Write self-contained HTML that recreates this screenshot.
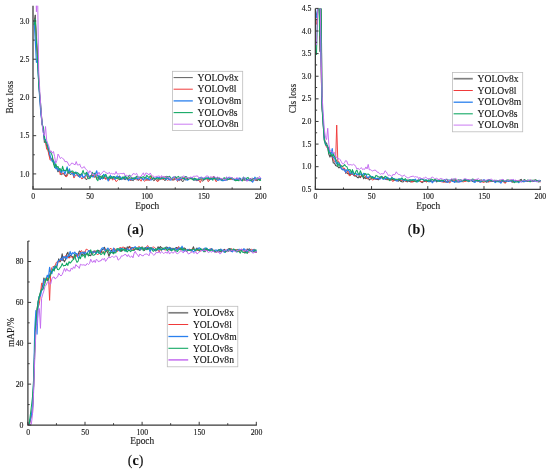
<!DOCTYPE html>
<html><head><meta charset="utf-8"><title>Figure</title>
<style>
html,body{margin:0;padding:0;background:#fff;}
body{width:550px;height:474px;overflow:hidden;}
svg{display:block;font-family:"Liberation Serif","DejaVu Serif",serif;}
text{stroke:#222;stroke-width:0.12px;}
</style></head><body>
<svg width="550" height="474" viewBox="0 0 550 474">
<rect width="550" height="474" fill="#fff"/>
<clipPath id="clipa"><rect x="33.0" y="5.7" width="229.60000000000002" height="183.5"/></clipPath>
<g clip-path="url(#clipa)" fill="none" stroke-linejoin="round" stroke-linecap="round">
<polyline points="34.14,20.99 35.28,14.87 36.41,36.28 37.55,54.63 38.69,82.16 39.83,98.98 40.97,112.89 42.10,124.02 43.24,129.63 44.38,142.58 45.52,140.66 46.66,146.54 47.79,148.71 48.93,153.58 50.07,157.65 51.21,158.60 52.35,159.37 53.48,163.30 54.62,165.54 55.76,165.33 56.90,169.00 58.04,172.11 59.17,169.32 60.31,171.09 61.45,174.73 62.59,173.95 63.73,173.24 64.86,174.79 66.00,176.19 67.14,173.85 68.28,171.52 69.42,173.14 70.55,174.87 71.69,173.50 72.83,172.59 73.97,174.35 75.11,173.58 76.24,172.59 77.38,174.66 78.52,176.56 79.66,175.31 80.80,175.17 81.93,173.80 83.07,177.47 84.21,177.79 85.35,178.29 86.49,180.01 87.62,177.69 88.76,176.35 89.90,177.94 91.04,175.24 92.18,175.27 93.31,175.65 94.45,176.20 95.59,175.63 96.73,178.91 97.87,177.23 99.00,176.73 100.14,180.04 101.28,178.20 102.42,178.47 103.56,177.17 104.69,178.48 105.83,178.40 106.97,177.93 108.11,179.47 109.25,178.06 110.38,178.57 111.52,177.95 112.66,179.09 113.80,177.40 114.94,177.46 116.07,178.51 117.21,177.86 118.35,176.85 119.49,175.86 120.63,179.76 121.76,178.06 122.90,178.01 124.04,178.69 125.18,180.06 126.32,177.80 127.45,180.07 128.59,178.68 129.73,177.33 130.87,180.33 132.01,179.84 133.14,180.87 134.28,179.42 135.42,177.46 136.56,176.21 137.70,180.16 138.83,180.17 139.97,178.73 141.11,177.25 142.25,178.06 143.39,179.67 144.52,179.06 145.66,179.19 146.80,179.45 147.94,180.12 149.08,179.13 150.21,178.87 151.35,179.22 152.49,179.48 153.63,180.72 154.77,180.29 155.90,178.33 157.04,179.14 158.18,180.75 159.32,178.37 160.46,178.40 161.59,176.75 162.73,178.33 163.87,179.43 165.01,180.84 166.15,178.45 167.28,176.33 168.42,179.11 169.56,179.90 170.70,178.89 171.84,180.01 172.97,179.82 174.11,179.84 175.25,179.30 176.39,178.19 177.53,178.90 178.66,178.24 179.80,179.36 180.94,179.01 182.08,181.36 183.22,181.49 184.35,179.29 185.49,179.90 186.63,178.96 187.77,178.66 188.91,177.79 190.04,178.00 191.18,177.87 192.32,178.94 193.46,179.89 194.60,180.26 195.73,180.15 196.87,180.74 198.01,180.38 199.15,179.81 200.29,179.28 201.42,179.67 202.56,181.35 203.70,180.13 204.84,179.42 205.98,178.34 207.11,178.46 208.25,179.68 209.39,180.19 210.53,177.73 211.67,178.08 212.80,177.17 213.94,176.57 215.08,179.19 216.22,178.96 217.36,178.81 218.49,178.66 219.63,178.63 220.77,178.94 221.91,179.08 223.05,180.73 224.18,180.03 225.32,180.34 226.46,179.62 227.60,179.94 228.74,179.02 229.87,178.51 231.01,178.81 232.15,178.92 233.29,179.17 234.43,179.76 235.56,179.71 236.70,180.00 237.84,179.27 238.98,179.37 240.12,178.87 241.25,180.50 242.39,178.98 243.53,180.01 244.67,180.34 245.81,179.95 246.94,180.16 248.08,179.44 249.22,179.99 250.36,180.66 251.50,180.68 252.63,178.67 253.77,179.15 254.91,180.46 256.05,179.82 257.19,181.05 258.32,178.36 259.46,180.52 260.60,179.40" stroke="#4d4d4d" stroke-width="0.95"/>
<polyline points="34.14,20.99 35.28,21.07 36.41,42.83 37.55,57.91 38.69,77.51 39.83,97.42 40.97,110.66 42.10,122.65 43.24,130.33 44.38,138.24 45.52,141.75 46.66,149.25 47.79,149.52 48.93,154.97 50.07,160.11 51.21,159.91 52.35,157.98 53.48,160.33 54.62,165.64 55.76,165.60 56.90,168.41 58.04,169.05 59.17,169.20 60.31,174.89 61.45,171.77 62.59,173.64 63.73,173.87 64.86,175.83 66.00,176.85 67.14,176.29 68.28,172.75 69.42,170.11 70.55,172.69 71.69,171.64 72.83,174.03 73.97,178.07 75.11,175.82 76.24,174.68 77.38,176.01 78.52,175.30 79.66,174.71 80.80,177.11 81.93,179.08 83.07,177.74 84.21,177.36 85.35,177.57 86.49,175.56 87.62,173.80 88.76,176.72 89.90,176.03 91.04,175.49 92.18,175.74 93.31,175.39 94.45,177.52 95.59,176.63 96.73,174.48 97.87,175.62 99.00,178.16 100.14,177.32 101.28,176.15 102.42,177.09 103.56,178.78 104.69,176.48 105.83,179.60 106.97,178.33 108.11,178.64 109.25,180.39 110.38,177.80 111.52,178.07 112.66,180.17 113.80,178.60 114.94,179.41 116.07,181.60 117.21,180.80 118.35,179.33 119.49,178.36 120.63,178.63 121.76,178.89 122.90,178.47 124.04,179.18 125.18,177.75 126.32,178.52 127.45,178.62 128.59,178.38 129.73,180.22 130.87,180.45 132.01,177.90 133.14,178.44 134.28,179.36 135.42,178.96 136.56,179.79 137.70,179.22 138.83,180.11 139.97,179.36 141.11,181.21 142.25,178.58 143.39,179.75 144.52,181.34 145.66,180.38 146.80,180.21 147.94,179.57 149.08,180.77 150.21,179.50 151.35,175.55 152.49,179.50 153.63,179.13 154.77,179.70 155.90,179.36 157.04,181.38 158.18,181.38 159.32,179.67 160.46,179.60 161.59,177.81 162.73,179.65 163.87,179.37 165.01,176.42 166.15,179.22 167.28,180.35 168.42,179.84 169.56,179.67 170.70,178.70 171.84,179.09 172.97,180.14 174.11,179.52 175.25,176.83 176.39,177.29 177.53,181.56 178.66,180.38 179.80,180.70 180.94,179.31 182.08,179.62 183.22,177.62 184.35,177.93 185.49,178.08 186.63,178.84 187.77,179.33 188.91,179.12 190.04,178.11 191.18,178.51 192.32,179.52 193.46,178.28 194.60,178.91 195.73,179.40 196.87,180.27 198.01,180.35 199.15,180.45 200.29,182.59 201.42,179.62 202.56,179.03 203.70,179.58 204.84,178.55 205.98,178.78 207.11,178.93 208.25,181.73 209.39,180.54 210.53,179.39 211.67,177.95 212.80,177.23 213.94,177.38 215.08,179.92 216.22,181.79 217.36,179.80 218.49,179.62 219.63,178.67 220.77,179.38 221.91,179.29 223.05,180.91 224.18,179.61 225.32,180.01 226.46,179.40 227.60,179.08 228.74,179.52 229.87,179.26 231.01,179.48 232.15,178.83 233.29,178.85 234.43,179.85 235.56,180.23 236.70,178.17 237.84,179.19 238.98,178.52 240.12,178.85 241.25,179.87 242.39,180.40 243.53,179.77 244.67,179.42 245.81,178.96 246.94,180.57 248.08,180.50 249.22,180.01 250.36,178.25 251.50,181.34 252.63,179.81 253.77,180.19 254.91,179.41 256.05,180.00 257.19,179.41 258.32,178.09 259.46,178.75 260.60,178.91" stroke="#f03a3a" stroke-width="0.95"/>
<polyline points="34.14,20.99 35.28,40.11 36.41,62.28 37.55,61.51 38.69,82.35 39.83,99.95 40.97,114.87 42.10,122.44 43.24,131.13 44.38,139.32 45.52,139.54 46.66,142.93 47.79,145.50 48.93,150.05 50.07,155.15 51.21,159.20 52.35,161.48 53.48,160.44 54.62,163.14 55.76,168.71 56.90,167.48 58.04,170.58 59.17,168.53 60.31,171.20 61.45,172.59 62.59,170.48 63.73,170.47 64.86,174.04 66.00,170.64 67.14,166.94 68.28,173.09 69.42,168.95 70.55,172.59 71.69,173.65 72.83,173.60 73.97,176.10 75.11,172.10 76.24,172.36 77.38,174.85 78.52,174.98 79.66,177.31 80.80,176.20 81.93,173.75 83.07,177.50 84.21,176.75 85.35,175.64 86.49,173.90 87.62,172.94 88.76,175.61 89.90,177.03 91.04,175.73 92.18,176.62 93.31,176.91 94.45,174.97 95.59,173.47 96.73,170.85 97.87,176.48 99.00,175.89 100.14,179.30 101.28,177.85 102.42,178.89 103.56,174.44 104.69,175.31 105.83,176.48 106.97,177.40 108.11,180.92 109.25,177.82 110.38,175.58 111.52,177.95 112.66,176.93 113.80,176.55 114.94,179.39 116.07,177.18 117.21,175.91 118.35,176.92 119.49,177.67 120.63,176.88 121.76,179.52 122.90,178.43 124.04,176.89 125.18,179.18 126.32,177.28 127.45,178.34 128.59,180.72 129.73,179.19 130.87,179.71 132.01,178.38 133.14,179.68 134.28,177.55 135.42,178.91 136.56,178.13 137.70,178.97 138.83,178.96 139.97,177.26 141.11,177.79 142.25,178.68 143.39,179.96 144.52,177.71 145.66,177.41 146.80,178.49 147.94,178.24 149.08,179.55 150.21,179.99 151.35,179.94 152.49,178.65 153.63,178.26 154.77,179.26 155.90,178.01 157.04,177.54 158.18,178.03 159.32,177.29 160.46,178.44 161.59,178.66 162.73,178.13 163.87,178.48 165.01,177.74 166.15,179.62 167.28,177.50 168.42,179.05 169.56,178.96 170.70,180.17 171.84,178.57 172.97,177.33 174.11,177.11 175.25,177.28 176.39,179.78 177.53,179.86 178.66,179.57 179.80,179.95 180.94,178.01 182.08,178.29 183.22,178.60 184.35,178.20 185.49,179.50 186.63,179.91 187.77,180.03 188.91,178.71 190.04,178.41 191.18,178.07 192.32,177.47 193.46,179.66 194.60,179.64 195.73,178.95 196.87,180.17 198.01,179.81 199.15,178.17 200.29,177.52 201.42,177.32 202.56,178.26 203.70,178.84 204.84,177.80 205.98,178.84 207.11,178.52 208.25,177.46 209.39,178.73 210.53,179.41 211.67,179.07 212.80,178.37 213.94,178.24 215.08,178.52 216.22,178.23 217.36,180.20 218.49,180.18 219.63,179.20 220.77,179.90 221.91,180.55 223.05,180.65 224.18,180.41 225.32,179.62 226.46,180.15 227.60,179.15 228.74,177.41 229.87,178.56 231.01,177.62 232.15,178.23 233.29,179.77 234.43,179.50 235.56,180.09 236.70,178.65 237.84,179.97 238.98,178.09 240.12,178.14 241.25,180.61 242.39,178.84 243.53,177.50 244.67,179.24 245.81,178.18 246.94,180.43 248.08,179.29 249.22,180.69 250.36,179.17 251.50,180.77 252.63,182.13 253.77,179.77 254.91,177.18 256.05,178.97 257.19,178.27 258.32,178.70 259.46,179.26 260.60,178.58" stroke="#2a80ee" stroke-width="1.2"/>
<polyline points="34.14,24.81 35.28,19.22 36.41,41.39 37.55,59.37 38.69,83.58 39.83,95.59 40.97,107.18 42.10,124.56 43.24,126.87 44.38,136.13 45.52,142.55 46.66,142.37 47.79,147.68 48.93,151.16 50.07,151.06 51.21,153.14 52.35,156.04 53.48,163.59 54.62,167.64 55.76,163.71 56.90,167.25 58.04,166.47 59.17,169.33 60.31,168.74 61.45,171.27 62.59,166.31 63.73,170.49 64.86,170.38 66.00,170.77 67.14,168.40 68.28,172.98 69.42,172.03 70.55,172.24 71.69,171.11 72.83,171.02 73.97,172.92 75.11,172.46 76.24,173.58 77.38,172.62 78.52,173.44 79.66,174.82 80.80,174.33 81.93,173.62 83.07,170.30 84.21,173.90 85.35,173.94 86.49,172.19 87.62,177.42 88.76,178.77 89.90,178.39 91.04,176.65 92.18,172.18 93.31,173.87 94.45,173.30 95.59,175.33 96.73,179.43 97.87,180.66 99.00,176.27 100.14,176.03 101.28,178.14 102.42,175.49 103.56,178.38 104.69,175.70 105.83,174.41 106.97,177.06 108.11,178.50 109.25,176.41 110.38,178.34 111.52,176.41 112.66,178.48 113.80,176.59 114.94,176.89 116.07,177.70 117.21,178.59 118.35,177.47 119.49,179.79 120.63,178.58 121.76,178.32 122.90,176.93 124.04,178.84 125.18,175.89 126.32,177.36 127.45,178.88 128.59,176.40 129.73,175.23 130.87,177.05 132.01,178.53 133.14,178.00 134.28,178.65 135.42,178.46 136.56,176.25 137.70,176.85 138.83,177.36 139.97,177.33 141.11,177.79 142.25,176.96 143.39,176.65 144.52,177.94 145.66,177.87 146.80,175.30 147.94,176.61 149.08,177.74 150.21,175.70 151.35,177.23 152.49,178.96 153.63,177.66 154.77,178.91 155.90,178.91 157.04,178.04 158.18,178.22 159.32,178.97 160.46,179.01 161.59,179.07 162.73,177.25 163.87,178.60 165.01,178.92 166.15,176.32 167.28,178.11 168.42,176.63 169.56,176.30 170.70,177.71 171.84,179.51 172.97,178.22 174.11,177.55 175.25,177.03 176.39,177.76 177.53,176.88 178.66,176.39 179.80,178.69 180.94,177.00 182.08,177.68 183.22,178.67 184.35,178.77 185.49,176.62 186.63,176.76 187.77,179.58 188.91,178.71 190.04,178.63 191.18,178.64 192.32,178.99 193.46,180.04 194.60,178.13 195.73,179.24 196.87,179.08 198.01,179.25 199.15,179.44 200.29,178.07 201.42,177.95 202.56,178.95 203.70,179.56 204.84,179.32 205.98,177.85 207.11,178.15 208.25,178.16 209.39,178.71 210.53,178.84 211.67,178.43 212.80,180.28 213.94,177.60 215.08,178.98 216.22,179.25 217.36,177.53 218.49,178.00 219.63,178.34 220.77,179.06 221.91,180.25 223.05,179.01 224.18,177.61 225.32,179.13 226.46,177.51 227.60,179.31 228.74,179.57 229.87,178.49 231.01,178.60 232.15,177.99 233.29,179.14 234.43,179.81 235.56,180.84 236.70,180.58 237.84,180.37 238.98,180.64 240.12,179.10 241.25,179.48 242.39,180.86 243.53,177.15 244.67,178.97 245.81,180.01 246.94,178.03 248.08,177.41 249.22,179.38 250.36,180.37 251.50,180.27 252.63,178.25 253.77,178.90 254.91,179.59 256.05,179.11 257.19,177.80 258.32,179.76 259.46,179.51 260.60,180.36" stroke="#12a864" stroke-width="1.05"/>
<polyline points="34.14,-1.95 35.28,-32.53 36.41,11.82 37.55,-9.59 38.69,70.69 39.83,91.33 40.97,108.83 42.10,124.47 43.24,132.82 44.38,135.68 45.52,126.50 46.66,140.27 47.79,143.56 48.93,146.48 50.07,151.84 51.21,150.92 52.35,153.21 53.48,151.50 54.62,156.52 55.76,163.11 56.90,160.43 58.04,154.03 59.17,156.02 60.31,158.57 61.45,157.53 62.59,158.38 63.73,159.07 64.86,161.64 66.00,161.62 67.14,161.66 68.28,163.87 69.42,165.96 70.55,164.64 71.69,163.00 72.83,163.44 73.97,164.23 75.11,164.80 76.24,161.57 77.38,164.95 78.52,165.09 79.66,163.91 80.80,167.13 81.93,168.19 83.07,167.54 84.21,166.55 85.35,168.75 86.49,169.69 87.62,170.69 88.76,173.34 89.90,170.63 91.04,171.97 92.18,174.80 93.31,173.46 94.45,175.50 95.59,175.21 96.73,173.68 97.87,174.63 99.00,172.15 100.14,174.99 101.28,173.53 102.42,172.66 103.56,171.15 104.69,171.44 105.83,172.55 106.97,173.20 108.11,173.66 109.25,172.25 110.38,174.23 111.52,173.37 112.66,173.92 113.80,173.71 114.94,174.33 116.07,171.49 117.21,174.13 118.35,173.92 119.49,173.85 120.63,173.45 121.76,173.55 122.90,173.65 124.04,173.04 125.18,175.90 126.32,175.08 127.45,176.32 128.59,175.03 129.73,176.29 130.87,176.49 132.01,175.53 133.14,173.55 134.28,173.87 135.42,174.35 136.56,173.30 137.70,175.68 138.83,177.86 139.97,176.75 141.11,176.25 142.25,174.41 143.39,172.81 144.52,176.17 145.66,173.16 146.80,173.17 147.94,174.02 149.08,174.88 150.21,172.97 151.35,174.91 152.49,176.23 153.63,176.06 154.77,177.67 155.90,176.29 157.04,176.47 158.18,176.10 159.32,175.98 160.46,177.47 161.59,175.53 162.73,177.34 163.87,175.98 165.01,178.13 166.15,176.85 167.28,177.66 168.42,177.07 169.56,177.60 170.70,179.38 171.84,178.92 172.97,177.57 174.11,176.55 175.25,178.34 176.39,179.65 177.53,178.86 178.66,177.93 179.80,178.05 180.94,178.29 182.08,176.72 183.22,176.08 184.35,176.10 185.49,177.80 186.63,177.41 187.77,177.55 188.91,178.85 190.04,177.03 191.18,177.20 192.32,177.84 193.46,176.21 194.60,176.30 195.73,176.26 196.87,175.93 198.01,176.31 199.15,178.40 200.29,178.29 201.42,176.91 202.56,178.17 203.70,177.84 204.84,177.39 205.98,176.23 207.11,175.97 208.25,176.28 209.39,177.45 210.53,176.81 211.67,176.97 212.80,177.70 213.94,176.51 215.08,176.93 216.22,178.29 217.36,176.84 218.49,177.80 219.63,177.33 220.77,179.20 221.91,178.43 223.05,179.05 224.18,179.31 225.32,180.30 226.46,176.80 227.60,177.76 228.74,177.74 229.87,176.92 231.01,177.81 232.15,177.53 233.29,179.21 234.43,178.34 235.56,178.62 236.70,177.87 237.84,177.92 238.98,179.42 240.12,180.39 241.25,179.95 242.39,178.16 243.53,177.84 244.67,177.76 245.81,180.01 246.94,181.44 248.08,180.01 249.22,179.24 250.36,179.24 251.50,178.35 252.63,178.54 253.77,179.57 254.91,179.65 256.05,178.73 257.19,178.48 258.32,178.54 259.46,176.39 260.60,178.00" stroke="#c46cf0" stroke-width="0.95"/>
</g>
<g stroke="#3a3a3a" stroke-width="1.25" fill="none">
<path d="M33.0 5.7 V189.2 H261.20000000000005"/>
</g>
<g stroke="#3a3a3a" stroke-width="1" fill="none">
<path d="M33.00 189.2 v-3.2"/>
<path d="M89.90 189.2 v-3.2"/>
<path d="M146.80 189.2 v-3.2"/>
<path d="M203.70 189.2 v-3.2"/>
<path d="M260.60 189.2 v-3.2"/>
<path d="M61.45 189.2 v-1.8"/>
<path d="M118.35 189.2 v-1.8"/>
<path d="M175.25 189.2 v-1.8"/>
<path d="M232.15 189.2 v-1.8"/>
<path d="M33.0 173.91 h3.2"/>
<path d="M33.0 135.68 h3.2"/>
<path d="M33.0 97.45 h3.2"/>
<path d="M33.0 59.22 h3.2"/>
<path d="M33.0 20.99 h3.2"/>
<path d="M33.0 154.79 h1.8"/>
<path d="M33.0 116.56 h1.8"/>
<path d="M33.0 78.34 h1.8"/>
<path d="M33.0 40.11 h1.8"/>
</g>
<g font-size="7.8" fill="#111">
<text x="33.20" y="199.1" text-anchor="middle" font-size="7.8">0</text>
<text x="90.10" y="199.1" text-anchor="middle" font-size="7.8">50</text>
<text x="147.00" y="199.1" text-anchor="middle" font-size="7.8">100</text>
<text x="203.90" y="199.1" text-anchor="middle" font-size="7.8">150</text>
<text x="260.80" y="199.1" text-anchor="middle" font-size="7.8">200</text>
<text x="29.4" y="176.51" text-anchor="end">1.0</text>
<text x="29.4" y="138.28" text-anchor="end">1.5</text>
<text x="29.4" y="100.05" text-anchor="end">2.0</text>
<text x="29.4" y="61.82" text-anchor="end">2.5</text>
<text x="29.4" y="23.59" text-anchor="end">3.0</text>
</g>
<text x="147.3" y="208.6" font-size="9.4" text-anchor="middle" fill="#1a1a1a">Epoch</text>
<text transform="translate(12.6 97.1) rotate(-90)" font-size="9.4" text-anchor="middle" fill="#1a1a1a">Box loss</text>
<rect x="172.4" y="71.3" width="70.30" height="59.20" fill="#fff" stroke="#bdbdbd" stroke-width="0.8"/>
<path d="M173.6 77.6 H192.8" stroke="#4d4d4d" stroke-width="0.9"/>
<text x="197.6" y="80.80" font-size="9.6" fill="#111">YOLOv8x</text>
<path d="M173.6 89.2 H192.8" stroke="#f03a3a" stroke-width="1.0"/>
<text x="197.6" y="92.40" font-size="9.6" fill="#111">YOLOv8l</text>
<path d="M173.6 100.9 H192.8" stroke="#2a80ee" stroke-width="1.3"/>
<text x="197.6" y="104.10" font-size="9.6" fill="#111">YOLOv8m</text>
<path d="M173.6 112.6 H192.8" stroke="#12a864" stroke-width="1.1"/>
<text x="197.6" y="115.80" font-size="9.6" fill="#111">YOLOv8s</text>
<path d="M173.6 124.2 H192.8" stroke="#c46cf0" stroke-width="0.9"/>
<text x="197.6" y="127.40" font-size="9.6" fill="#111">YOLOv8n</text>
<text x="135.5" y="234" font-size="14" text-anchor="middle" fill="#111">(<tspan font-weight="bold">a</tspan>)</text>
<clipPath id="clipb"><rect x="315.35" y="8.4" width="226.85000000000002" height="180.9"/></clipPath>
<g clip-path="url(#clipb)" fill="none" stroke-linejoin="round" stroke-linecap="round">
<polyline points="316.47,15.18 317.60,10.66 318.72,-32.30 319.85,51.36 320.97,-9.69 322.10,105.44 323.22,124.22 324.34,140.97 325.47,142.38 326.59,143.19 327.72,148.02 328.84,154.30 329.97,157.09 331.09,154.51 332.21,157.42 333.34,163.02 334.46,163.02 335.59,165.51 336.71,166.06 337.84,166.63 338.96,167.84 340.08,166.77 341.21,167.97 342.33,169.76 343.46,169.32 344.58,168.89 345.70,172.88 346.83,172.52 347.95,173.81 349.08,173.41 350.20,175.09 351.33,174.06 352.45,174.04 353.57,174.63 354.70,176.06 355.82,175.89 356.95,176.95 358.07,177.84 359.20,176.32 360.32,177.66 361.44,175.41 362.57,175.34 363.69,178.74 364.82,177.31 365.94,178.56 367.07,177.79 368.19,177.63 369.31,180.00 370.44,178.94 371.56,178.71 372.69,177.35 373.81,179.29 374.94,177.97 376.06,179.53 377.18,179.33 378.31,179.85 379.43,177.75 380.56,178.00 381.68,176.29 382.81,177.56 383.93,177.87 385.05,178.05 386.18,179.57 387.30,179.64 388.43,178.38 389.55,179.65 390.67,179.60 391.80,179.83 392.92,179.39 394.05,180.17 395.17,180.30 396.30,180.05 397.42,180.13 398.54,181.05 399.67,179.89 400.79,181.38 401.92,181.82 403.04,182.05 404.17,180.25 405.29,180.75 406.41,181.45 407.54,181.83 408.66,180.71 409.79,181.53 410.91,182.00 412.04,180.66 413.16,181.65 414.28,181.32 415.41,180.97 416.53,181.20 417.66,180.99 418.78,179.87 419.91,180.91 421.03,181.85 422.15,182.63 423.28,181.67 424.40,181.47 425.53,180.95 426.65,181.32 427.78,181.48 428.90,181.70 430.02,181.63 431.15,181.11 432.27,181.32 433.40,181.05 434.52,179.67 435.64,180.20 436.77,181.85 437.89,180.09 439.02,180.45 440.14,181.48 441.27,180.55 442.39,180.85 443.51,181.39 444.64,181.59 445.76,181.91 446.89,181.31 448.01,180.40 449.14,181.04 450.26,180.75 451.38,179.67 452.51,181.38 453.63,180.99 454.76,181.23 455.88,181.82 457.01,182.00 458.13,181.39 459.25,180.89 460.38,181.35 461.50,181.12 462.63,180.61 463.75,180.71 464.88,180.37 466.00,180.53 467.12,180.56 468.25,179.71 469.37,180.20 470.50,180.69 471.62,180.48 472.75,181.46 473.87,181.43 474.99,180.70 476.12,180.55 477.24,179.92 478.37,180.68 479.49,181.88 480.61,180.14 481.74,180.07 482.86,181.41 483.99,180.35 485.11,180.82 486.24,182.14 487.36,181.73 488.48,181.64 489.61,180.30 490.73,181.32 491.86,181.34 492.98,181.36 494.11,181.43 495.23,181.79 496.35,181.21 497.48,180.47 498.60,180.50 499.73,181.47 500.85,181.94 501.98,181.32 503.10,181.62 504.22,181.67 505.35,182.34 506.47,180.34 507.60,180.28 508.72,181.41 509.85,180.66 510.97,180.13 512.09,182.23 513.22,181.83 514.34,181.60 515.47,180.89 516.59,181.11 517.72,181.25 518.84,181.19 519.96,180.02 521.09,179.42 522.21,180.84 523.34,181.58 524.46,179.65 525.58,181.19 526.71,181.49 527.83,181.22 528.96,180.86 530.08,180.41 531.21,180.63 532.33,181.47 533.45,180.94 534.58,180.91 535.70,179.92 536.83,180.71 537.95,181.78 539.08,181.98 540.20,180.55" stroke="#4d4d4d" stroke-width="1.1"/>
<polyline points="316.47,24.23 317.60,12.92 318.72,-23.26 319.85,-9.69 320.97,67.19 322.10,107.98 323.22,122.52 324.34,137.12 325.47,144.00 326.59,147.39 327.72,146.53 328.84,148.10 329.97,151.52 331.09,154.96 332.21,155.86 333.34,159.62 334.46,161.87 335.59,161.26 336.71,125.08 337.84,162.17 338.96,161.65 340.08,165.86 341.21,165.52 342.33,165.89 343.46,168.91 344.58,168.23 345.70,173.45 346.83,172.20 347.95,171.01 349.08,175.65 350.20,175.67 351.33,172.81 352.45,173.91 353.57,175.67 354.70,175.51 355.82,175.90 356.95,174.58 358.07,174.69 359.20,175.87 360.32,176.95 361.44,176.67 362.57,175.04 363.69,175.80 364.82,175.86 365.94,176.95 367.07,178.77 368.19,178.84 369.31,177.42 370.44,177.67 371.56,178.99 372.69,180.27 373.81,178.90 374.94,178.98 376.06,179.09 377.18,179.17 378.31,178.64 379.43,178.51 380.56,177.86 381.68,177.74 382.81,177.38 383.93,177.84 385.05,179.18 386.18,179.43 387.30,179.06 388.43,179.75 389.55,179.24 390.67,178.56 391.80,180.19 392.92,181.68 394.05,179.56 395.17,179.94 396.30,179.51 397.42,181.21 398.54,179.16 399.67,179.37 400.79,180.19 401.92,180.68 403.04,180.47 404.17,180.65 405.29,180.83 406.41,181.59 407.54,179.91 408.66,180.42 409.79,180.51 410.91,180.55 412.04,182.53 413.16,180.94 414.28,181.07 415.41,181.11 416.53,180.85 417.66,181.58 418.78,180.45 419.91,181.25 421.03,181.70 422.15,181.84 423.28,181.13 424.40,180.45 425.53,181.24 426.65,182.20 427.78,180.64 428.90,181.66 430.02,180.36 431.15,180.82 432.27,181.45 433.40,181.63 434.52,180.90 435.64,180.34 436.77,180.92 437.89,180.32 439.02,179.31 440.14,180.57 441.27,181.67 442.39,181.98 443.51,182.32 444.64,181.92 445.76,181.84 446.89,182.22 448.01,181.09 449.14,182.83 450.26,182.56 451.38,180.21 452.51,180.05 453.63,180.35 454.76,180.50 455.88,179.67 457.01,180.21 458.13,180.71 459.25,181.75 460.38,181.35 461.50,181.64 462.63,181.73 463.75,181.76 464.88,181.34 466.00,181.38 467.12,180.61 468.25,181.77 469.37,181.43 470.50,180.00 471.62,180.68 472.75,180.17 473.87,180.04 474.99,179.88 476.12,180.19 477.24,181.66 478.37,181.46 479.49,181.46 480.61,182.21 481.74,181.78 482.86,182.13 483.99,182.51 485.11,181.46 486.24,181.26 487.36,181.59 488.48,181.87 489.61,181.71 490.73,181.56 491.86,181.52 492.98,181.28 494.11,181.44 495.23,180.98 496.35,180.74 497.48,180.75 498.60,181.39 499.73,181.59 500.85,181.01 501.98,181.19 503.10,181.16 504.22,182.66 505.35,183.31 506.47,181.67 507.60,181.10 508.72,180.25 509.85,180.37 510.97,180.71 512.09,180.96 513.22,181.93 514.34,180.86 515.47,181.39 516.59,180.90 517.72,180.92 518.84,180.88 519.96,180.49 521.09,181.19 522.21,181.37 523.34,181.72 524.46,181.55 525.58,180.26 526.71,181.04 527.83,180.37 528.96,180.36 530.08,180.41 531.21,180.39 532.33,181.47 533.45,181.02 534.58,180.13 535.70,181.19 536.83,181.17 537.95,181.55 539.08,181.08 540.20,181.76" stroke="#f03a3a" stroke-width="0.95"/>
<polyline points="316.47,17.45 317.60,8.40 318.72,-36.82 319.85,-14.21 320.97,58.15 322.10,104.39 323.22,121.57 324.34,139.18 325.47,143.64 326.59,145.27 327.72,147.24 328.84,149.57 329.97,152.89 331.09,154.48 332.21,148.60 333.34,157.64 334.46,157.91 335.59,161.68 336.71,163.89 337.84,162.37 338.96,163.40 340.08,164.43 341.21,168.60 342.33,169.07 343.46,169.96 344.58,169.51 345.70,172.61 346.83,169.62 347.95,170.40 349.08,170.83 350.20,173.52 351.33,173.07 352.45,171.29 353.57,174.90 354.70,173.83 355.82,173.18 356.95,175.00 358.07,173.89 359.20,175.18 360.32,173.86 361.44,174.42 362.57,175.14 363.69,173.38 364.82,174.34 365.94,174.26 367.07,177.28 368.19,177.81 369.31,176.43 370.44,176.00 371.56,177.05 372.69,176.56 373.81,178.47 374.94,177.83 376.06,179.13 377.18,178.09 378.31,178.66 379.43,179.09 380.56,178.59 381.68,176.73 382.81,178.97 383.93,179.40 385.05,177.99 386.18,179.01 387.30,177.33 388.43,178.29 389.55,178.81 390.67,178.80 391.80,177.59 392.92,178.23 394.05,178.64 395.17,179.07 396.30,180.89 397.42,180.97 398.54,178.97 399.67,178.91 400.79,179.17 401.92,179.18 403.04,180.20 404.17,179.83 405.29,180.76 406.41,180.02 407.54,180.70 408.66,180.54 409.79,179.96 410.91,180.41 412.04,179.80 413.16,179.76 414.28,179.85 415.41,179.14 416.53,181.10 417.66,181.89 418.78,180.47 419.91,179.75 421.03,178.70 422.15,179.31 423.28,179.49 424.40,180.85 425.53,180.13 426.65,179.95 427.78,181.18 428.90,181.49 430.02,181.02 431.15,180.57 432.27,182.75 433.40,181.34 434.52,180.74 435.64,180.82 436.77,180.54 437.89,180.31 439.02,181.27 440.14,180.60 441.27,180.84 442.39,181.41 443.51,180.81 444.64,179.72 445.76,181.38 446.89,182.09 448.01,182.33 449.14,179.95 450.26,180.64 451.38,180.75 452.51,181.28 453.63,181.57 454.76,182.40 455.88,181.23 457.01,180.76 458.13,182.08 459.25,181.93 460.38,181.68 461.50,181.12 462.63,180.75 463.75,180.05 464.88,179.65 466.00,179.71 467.12,179.56 468.25,181.14 469.37,181.30 470.50,180.26 471.62,180.45 472.75,180.69 473.87,182.06 474.99,182.47 476.12,180.95 477.24,180.68 478.37,180.99 479.49,181.18 480.61,182.08 481.74,181.07 482.86,180.30 483.99,179.65 485.11,180.43 486.24,180.86 487.36,181.57 488.48,180.37 489.61,179.65 490.73,180.85 491.86,180.71 492.98,180.78 494.11,181.22 495.23,182.57 496.35,181.72 497.48,180.82 498.60,181.78 499.73,181.74 500.85,183.24 501.98,180.94 503.10,180.63 504.22,180.80 505.35,181.05 506.47,181.37 507.60,181.14 508.72,181.20 509.85,181.19 510.97,181.05 512.09,180.91 513.22,179.99 514.34,181.50 515.47,180.99 516.59,181.35 517.72,181.79 518.84,182.69 519.96,181.20 521.09,181.65 522.21,181.67 523.34,180.93 524.46,181.62 525.58,181.19 526.71,181.10 527.83,180.54 528.96,180.22 530.08,181.25 531.21,180.53 532.33,180.89 533.45,180.89 534.58,181.09 535.70,180.57 536.83,181.58 537.95,181.05 539.08,180.32 540.20,180.94" stroke="#2a80ee" stroke-width="1.2"/>
<polyline points="316.47,54.53 317.60,15.18 318.72,-14.21 319.85,35.53 320.97,-0.65 322.10,109.56 323.22,125.63 324.34,139.96 325.47,144.96 326.59,145.20 327.72,145.73 328.84,153.40 329.97,152.55 331.09,154.61 332.21,156.27 333.34,153.83 334.46,156.20 335.59,159.05 336.71,161.03 337.84,166.31 338.96,163.86 340.08,166.14 341.21,166.00 342.33,166.64 343.46,166.05 344.58,164.59 345.70,166.12 346.83,166.63 347.95,169.41 349.08,169.72 350.20,169.63 351.33,172.99 352.45,169.57 353.57,172.44 354.70,174.41 355.82,171.45 356.95,170.05 358.07,173.46 359.20,174.73 360.32,170.69 361.44,173.19 362.57,176.76 363.69,176.46 364.82,173.38 365.94,174.07 367.07,174.34 368.19,174.04 369.31,174.70 370.44,176.20 371.56,178.23 372.69,176.75 373.81,178.02 374.94,177.40 376.06,175.35 377.18,176.01 378.31,176.83 379.43,177.18 380.56,176.71 381.68,176.44 382.81,178.65 383.93,178.00 385.05,176.36 386.18,176.80 387.30,178.48 388.43,179.04 389.55,180.59 390.67,180.00 391.80,177.64 392.92,178.43 394.05,179.47 395.17,179.64 396.30,179.34 397.42,179.29 398.54,179.54 399.67,180.04 400.79,179.01 401.92,177.92 403.04,179.35 404.17,179.85 405.29,178.60 406.41,180.39 407.54,180.31 408.66,180.13 409.79,179.65 410.91,179.86 412.04,180.44 413.16,179.71 414.28,180.66 415.41,181.45 416.53,181.95 417.66,179.99 418.78,181.25 419.91,180.03 421.03,179.46 422.15,179.18 423.28,179.85 424.40,180.38 425.53,180.11 426.65,180.54 427.78,181.22 428.90,179.59 430.02,180.60 431.15,179.00 432.27,179.39 433.40,180.23 434.52,179.89 435.64,179.21 436.77,180.84 437.89,181.09 439.02,181.26 440.14,180.48 441.27,180.05 442.39,180.16 443.51,180.74 444.64,180.80 445.76,179.65 446.89,179.31 448.01,179.87 449.14,181.05 450.26,180.16 451.38,180.08 452.51,180.08 453.63,179.10 454.76,179.38 455.88,180.68 457.01,181.13 458.13,179.74 459.25,180.04 460.38,179.70 461.50,180.24 462.63,180.99 463.75,180.42 464.88,179.38 466.00,179.82 467.12,180.94 468.25,180.80 469.37,180.87 470.50,180.47 471.62,179.78 472.75,178.94 473.87,179.77 474.99,180.48 476.12,180.41 477.24,180.43 478.37,180.72 479.49,180.54 480.61,180.50 481.74,181.24 482.86,180.41 483.99,180.70 485.11,181.19 486.24,180.44 487.36,180.80 488.48,179.53 489.61,179.88 490.73,180.26 491.86,180.92 492.98,180.93 494.11,180.16 495.23,180.85 496.35,180.20 497.48,181.75 498.60,180.87 499.73,180.19 500.85,180.25 501.98,180.48 503.10,179.95 504.22,180.91 505.35,181.33 506.47,180.81 507.60,179.96 508.72,180.14 509.85,180.58 510.97,180.44 512.09,180.31 513.22,181.30 514.34,182.60 515.47,181.97 516.59,182.03 517.72,181.50 518.84,181.70 519.96,181.56 521.09,180.73 522.21,180.65 523.34,180.69 524.46,179.69 525.58,180.63 526.71,180.91 527.83,180.01 528.96,181.14 530.08,181.84 531.21,180.32 532.33,180.38 533.45,180.24 534.58,180.17 535.70,179.99 536.83,180.75 537.95,180.78 539.08,181.42 540.20,180.89" stroke="#12a864" stroke-width="1.05"/>
<polyline points="316.47,44.58 317.60,12.92 318.72,-27.78 319.85,-18.73 320.97,49.10 322.10,96.17 323.22,113.78 324.34,129.72 325.47,137.48 326.59,139.55 327.72,128.25 328.84,144.08 329.97,150.39 331.09,151.22 332.21,151.37 333.34,153.08 334.46,152.44 335.59,156.83 336.71,157.05 337.84,159.30 338.96,158.41 340.08,159.56 341.21,161.48 342.33,163.62 343.46,163.80 344.58,162.54 345.70,160.53 346.83,161.17 347.95,164.56 349.08,164.94 350.20,164.55 351.33,164.88 352.45,164.97 353.57,164.27 354.70,165.03 355.82,166.72 356.95,169.12 358.07,168.09 359.20,169.63 360.32,168.45 361.44,167.65 362.57,169.59 363.69,169.02 364.82,169.27 365.94,166.91 367.07,168.95 368.19,164.43 369.31,169.85 370.44,169.65 371.56,170.43 372.69,171.02 373.81,170.31 374.94,170.15 376.06,170.47 377.18,172.22 378.31,172.19 379.43,173.64 380.56,174.19 381.68,173.56 382.81,173.95 383.93,173.56 385.05,170.74 386.18,171.82 387.30,173.64 388.43,175.59 389.55,175.13 390.67,175.63 391.80,176.61 392.92,174.38 394.05,174.82 395.17,174.25 396.30,171.80 397.42,173.56 398.54,174.41 399.67,174.60 400.79,175.34 401.92,176.19 403.04,176.08 404.17,175.01 405.29,175.94 406.41,177.28 407.54,177.74 408.66,177.82 409.79,177.11 410.91,176.58 412.04,176.49 413.16,176.00 414.28,177.02 415.41,176.65 416.53,177.01 417.66,176.92 418.78,178.90 419.91,177.27 421.03,178.89 422.15,179.18 423.28,177.90 424.40,178.39 425.53,177.00 426.65,177.77 427.78,178.96 428.90,178.56 430.02,178.86 431.15,177.58 432.27,177.12 433.40,177.64 434.52,178.68 435.64,178.73 436.77,178.10 437.89,179.22 439.02,179.64 440.14,178.67 441.27,178.45 442.39,179.08 443.51,179.36 444.64,180.65 445.76,178.98 446.89,179.32 448.01,180.36 449.14,180.55 450.26,180.47 451.38,178.70 452.51,178.79 453.63,180.20 454.76,178.57 455.88,178.37 457.01,179.91 458.13,181.53 459.25,179.71 460.38,180.12 461.50,179.98 462.63,180.20 463.75,179.13 464.88,178.63 466.00,178.91 467.12,179.65 468.25,179.66 469.37,179.44 470.50,180.80 471.62,179.48 472.75,180.04 473.87,179.88 474.99,179.92 476.12,179.45 477.24,179.21 478.37,178.41 479.49,179.78 480.61,180.62 481.74,180.27 482.86,180.66 483.99,179.85 485.11,180.62 486.24,180.30 487.36,179.69 488.48,179.44 489.61,179.86 490.73,179.26 491.86,179.14 492.98,180.96 494.11,180.32 495.23,180.21 496.35,180.48 497.48,180.79 498.60,180.48 499.73,180.16 500.85,180.13 501.98,179.45 503.10,179.45 504.22,180.43 505.35,180.88 506.47,180.06 507.60,180.72 508.72,180.43 509.85,180.15 510.97,179.71 512.09,179.88 513.22,179.38 514.34,180.37 515.47,180.04 516.59,180.73 517.72,180.47 518.84,180.42 519.96,181.05 521.09,182.29 522.21,180.57 523.34,180.33 524.46,180.39 525.58,180.93 526.71,180.90 527.83,180.41 528.96,180.52 530.08,179.87 531.21,180.28 532.33,180.99 533.45,180.38 534.58,180.93 535.70,180.61 536.83,181.73 537.95,181.24 539.08,180.54 540.20,181.02" stroke="#c46cf0" stroke-width="0.95"/>
</g>
<g stroke="#3a3a3a" stroke-width="1.25" fill="none">
<path d="M315.35 8.4 V189.3 H540.8000000000001"/>
</g>
<g stroke="#3a3a3a" stroke-width="1" fill="none">
<path d="M315.35 189.3 v-3.2"/>
<path d="M371.56 189.3 v-3.2"/>
<path d="M427.78 189.3 v-3.2"/>
<path d="M483.99 189.3 v-3.2"/>
<path d="M540.20 189.3 v-3.2"/>
<path d="M343.46 189.3 v-1.8"/>
<path d="M399.67 189.3 v-1.8"/>
<path d="M455.88 189.3 v-1.8"/>
<path d="M512.09 189.3 v-1.8"/>
<path d="M315.35 189.30 h3.2"/>
<path d="M315.35 166.69 h3.2"/>
<path d="M315.35 144.08 h3.2"/>
<path d="M315.35 121.46 h3.2"/>
<path d="M315.35 98.85 h3.2"/>
<path d="M315.35 76.24 h3.2"/>
<path d="M315.35 53.62 h3.2"/>
<path d="M315.35 31.01 h3.2"/>
<path d="M315.35 8.40 h3.2"/>
<path d="M315.35 177.99 h1.8"/>
<path d="M315.35 155.38 h1.8"/>
<path d="M315.35 132.77 h1.8"/>
<path d="M315.35 110.16 h1.8"/>
<path d="M315.35 87.54 h1.8"/>
<path d="M315.35 64.93 h1.8"/>
<path d="M315.35 42.32 h1.8"/>
<path d="M315.35 19.71 h1.8"/>
</g>
<g font-size="7.8" fill="#111">
<text x="315.55" y="199.1" text-anchor="middle" font-size="7.8">0</text>
<text x="371.76" y="199.1" text-anchor="middle" font-size="7.8">50</text>
<text x="427.98" y="199.1" text-anchor="middle" font-size="7.8">100</text>
<text x="484.19" y="199.1" text-anchor="middle" font-size="7.8">150</text>
<text x="540.40" y="199.1" text-anchor="middle" font-size="7.8">200</text>
<text x="311.4" y="191.90" text-anchor="end">0.5</text>
<text x="311.4" y="169.29" text-anchor="end">1.0</text>
<text x="311.4" y="146.68" text-anchor="end">1.5</text>
<text x="311.4" y="124.06" text-anchor="end">2.0</text>
<text x="311.4" y="101.45" text-anchor="end">2.5</text>
<text x="311.4" y="78.84" text-anchor="end">3.0</text>
<text x="311.4" y="56.23" text-anchor="end">3.5</text>
<text x="311.4" y="33.61" text-anchor="end">4.0</text>
<text x="311.4" y="11.00" text-anchor="end">4.5</text>
</g>
<text x="428.2" y="208.6" font-size="9.4" text-anchor="middle" fill="#1a1a1a">Epoch</text>
<text transform="translate(295.7 98.6) rotate(-90)" font-size="9.4" text-anchor="middle" fill="#1a1a1a">Cls loss</text>
<rect x="452.4" y="72.4" width="70.30" height="59.40" fill="#fff" stroke="#bdbdbd" stroke-width="0.8"/>
<path d="M453.6 78.7 H472.8" stroke="#808080" stroke-width="1.7"/>
<text x="477.6" y="81.90" font-size="9.6" fill="#111">YOLOv8x</text>
<path d="M453.6 90.5 H472.8" stroke="#f03a3a" stroke-width="1.0"/>
<text x="477.6" y="93.70" font-size="9.6" fill="#111">YOLOv8l</text>
<path d="M453.6 102.2 H472.8" stroke="#2a80ee" stroke-width="1.3"/>
<text x="477.6" y="105.40" font-size="9.6" fill="#111">YOLOv8m</text>
<path d="M453.6 113.8 H472.8" stroke="#12a864" stroke-width="1.1"/>
<text x="477.6" y="117.00" font-size="9.6" fill="#111">YOLOv8s</text>
<path d="M453.6 125.1 H472.8" stroke="#c46cf0" stroke-width="0.9"/>
<text x="477.6" y="128.30" font-size="9.6" fill="#111">YOLOv8n</text>
<text x="416.3" y="234" font-size="14" text-anchor="middle" fill="#111">(<tspan font-weight="bold">b</tspan>)</text>
<clipPath id="clipc"><rect x="27.9" y="241.1" width="230.4" height="183.9"/></clipPath>
<g clip-path="url(#clipc)" fill="none" stroke-linejoin="round" stroke-linecap="round">
<polyline points="29.04,424.79 30.18,420.67 31.33,414.78 32.47,413.76 33.61,387.20 34.75,351.78 35.89,319.64 37.04,308.68 38.18,301.87 39.32,296.66 40.46,292.42 41.60,289.20 42.75,285.48 43.89,277.95 45.03,280.65 46.17,279.39 47.31,279.33 48.46,277.83 49.60,275.53 50.74,272.39 51.88,271.62 53.02,270.21 54.17,269.27 55.31,266.27 56.45,267.51 57.59,263.53 58.73,258.87 59.88,261.92 61.02,260.48 62.16,253.83 63.30,259.83 64.44,261.82 65.59,259.40 66.73,254.16 67.87,252.29 69.01,257.96 70.15,255.47 71.30,255.81 72.44,256.74 73.58,259.15 74.72,254.09 75.86,256.31 77.01,254.52 78.15,254.39 79.29,251.10 80.43,251.51 81.57,255.41 82.72,254.52 83.86,252.03 85.00,255.33 86.14,254.28 87.28,252.91 88.43,255.47 89.57,255.20 90.71,255.73 91.85,252.58 92.99,253.17 94.14,250.86 95.28,251.55 96.42,250.87 97.56,251.62 98.70,250.40 99.85,251.33 100.99,252.69 102.13,249.67 103.27,249.28 104.41,247.26 105.56,250.23 106.70,251.34 107.84,252.69 108.98,256.22 110.12,253.24 111.27,250.05 112.41,251.21 113.55,253.67 114.69,249.69 115.83,250.43 116.98,250.16 118.12,250.10 119.26,249.59 120.40,248.64 121.54,251.30 122.69,249.80 123.83,249.80 124.97,247.63 126.11,249.93 127.25,246.92 128.40,247.58 129.54,246.38 130.68,249.02 131.82,247.60 132.96,247.82 134.11,250.12 135.25,248.99 136.39,248.94 137.53,249.60 138.67,249.50 139.82,250.32 140.96,249.32 142.10,248.18 143.24,249.31 144.38,250.48 145.53,247.63 146.67,248.77 147.81,248.55 148.95,248.83 150.09,249.27 151.24,248.04 152.38,249.14 153.52,248.73 154.66,250.37 155.80,250.94 156.95,249.64 158.09,246.78 159.23,248.21 160.37,246.53 161.51,247.90 162.66,248.20 163.80,249.45 164.94,249.09 166.08,247.02 167.22,247.31 168.37,249.41 169.51,249.68 170.65,247.76 171.79,249.45 172.93,248.23 174.08,250.02 175.22,248.72 176.36,247.50 177.50,248.03 178.64,248.81 179.79,249.10 180.93,249.42 182.07,249.44 183.21,248.17 184.35,247.97 185.50,248.75 186.64,250.72 187.78,250.34 188.92,249.41 190.06,249.51 191.21,251.05 192.35,249.23 193.49,246.84 194.63,250.44 195.77,249.82 196.92,248.07 198.06,249.89 199.20,250.27 200.34,249.76 201.48,249.26 202.63,250.21 203.77,248.96 204.91,251.75 206.05,249.66 207.19,249.56 208.34,250.11 209.48,249.68 210.62,249.96 211.76,248.70 212.90,250.32 214.05,250.22 215.19,251.60 216.33,251.62 217.47,250.72 218.61,251.91 219.76,251.43 220.90,251.84 222.04,251.07 223.18,250.30 224.32,249.32 225.47,252.09 226.61,250.87 227.75,249.55 228.89,248.77 230.03,248.60 231.18,251.48 232.32,251.13 233.46,249.97 234.60,249.37 235.74,249.93 236.89,250.07 238.03,250.14 239.17,251.19 240.31,250.47 241.45,249.68 242.60,250.70 243.74,249.38 244.88,253.19 246.02,251.42 247.16,249.04 248.31,249.41 249.45,248.92 250.59,250.14 251.73,251.74 252.87,251.39 254.02,249.29 255.16,252.26 256.30,251.98" stroke="#4d4d4d" stroke-width="1.1"/>
<polyline points="29.04,425.00 30.18,421.56 31.33,415.43 32.47,408.00 33.61,385.42 34.75,344.10 35.89,318.49 37.04,311.32 38.18,307.22 39.32,303.80 40.46,294.28 41.60,283.16 42.75,283.92 43.89,283.92 45.03,280.54 46.17,280.06 47.31,279.89 48.46,275.84 49.60,300.36 50.74,271.75 51.88,267.62 53.02,266.42 54.17,266.69 55.31,264.92 56.45,262.16 57.59,262.69 58.73,260.85 59.88,261.53 61.02,257.96 62.16,260.92 63.30,257.86 64.44,256.49 65.59,255.85 66.73,255.56 67.87,257.35 69.01,257.70 70.15,257.24 71.30,256.85 72.44,257.91 73.58,256.63 74.72,256.57 75.86,256.94 77.01,254.51 78.15,255.83 79.29,254.17 80.43,251.58 81.57,250.56 82.72,253.06 83.86,251.74 85.00,252.62 86.14,249.15 87.28,249.56 88.43,250.37 89.57,252.44 90.71,252.85 91.85,251.57 92.99,252.11 94.14,252.44 95.28,250.94 96.42,253.50 97.56,255.01 98.70,253.70 99.85,253.53 100.99,251.78 102.13,252.47 103.27,251.53 104.41,253.88 105.56,249.21 106.70,249.73 107.84,251.53 108.98,250.12 110.12,248.46 111.27,248.59 112.41,249.81 113.55,248.99 114.69,248.36 115.83,250.99 116.98,251.71 118.12,250.61 119.26,248.19 120.40,247.02 121.54,248.51 122.69,246.96 123.83,247.26 124.97,248.66 126.11,249.76 127.25,249.78 128.40,248.81 129.54,246.87 130.68,247.16 131.82,249.87 132.96,250.25 134.11,247.71 135.25,247.93 136.39,249.33 137.53,247.64 138.67,246.49 139.82,246.98 140.96,247.94 142.10,246.67 143.24,248.52 144.38,249.16 145.53,249.70 146.67,246.47 147.81,245.58 148.95,247.99 150.09,247.75 151.24,247.89 152.38,247.37 153.52,247.00 154.66,247.55 155.80,248.58 156.95,249.30 158.09,250.04 159.23,252.04 160.37,249.57 161.51,249.95 162.66,249.06 163.80,249.06 164.94,250.13 166.08,249.77 167.22,248.69 168.37,248.78 169.51,250.00 170.65,250.12 171.79,248.69 172.93,248.81 174.08,248.77 175.22,249.31 176.36,248.45 177.50,249.01 178.64,246.48 179.79,249.28 180.93,250.11 182.07,247.74 183.21,249.16 184.35,250.23 185.50,249.16 186.64,251.93 187.78,249.53 188.92,249.53 190.06,249.29 191.21,250.41 192.35,248.39 193.49,249.08 194.63,249.59 195.77,249.31 196.92,250.55 198.06,250.07 199.20,251.45 200.34,251.32 201.48,249.85 202.63,249.76 203.77,249.11 204.91,250.48 206.05,250.19 207.19,250.76 208.34,249.91 209.48,249.22 210.62,248.80 211.76,249.25 212.90,250.77 214.05,250.05 215.19,251.21 216.33,252.36 217.47,250.44 218.61,250.17 219.76,249.44 220.90,249.23 222.04,251.32 223.18,251.41 224.32,250.52 225.47,250.27 226.61,249.89 227.75,251.59 228.89,250.86 230.03,249.81 231.18,248.34 232.32,251.27 233.46,248.94 234.60,250.43 235.74,251.92 236.89,249.41 238.03,251.35 239.17,251.86 240.31,250.06 241.45,249.39 242.60,250.25 243.74,251.23 244.88,252.22 246.02,250.82 247.16,253.02 248.31,252.58 249.45,249.97 250.59,249.90 251.73,249.30 252.87,250.01 254.02,251.73 255.16,250.46 256.30,252.51" stroke="#f03a3a" stroke-width="0.95"/>
<polyline points="29.04,424.75 30.18,419.84 31.33,415.60 32.47,407.46 33.61,383.84 34.75,328.96 35.89,310.57 37.04,334.07 38.18,302.40 39.32,296.27 40.46,295.92 41.60,290.44 42.75,289.16 43.89,279.95 45.03,279.68 46.17,278.66 47.31,275.23 48.46,277.68 49.60,267.35 50.74,272.52 51.88,273.72 53.02,268.51 54.17,266.82 55.31,268.16 56.45,267.01 57.59,261.83 58.73,260.73 59.88,259.88 61.02,258.23 62.16,260.37 63.30,256.63 64.44,257.93 65.59,256.40 66.73,258.86 67.87,255.70 69.01,255.80 70.15,251.46 71.30,255.30 72.44,252.74 73.58,253.65 74.72,252.01 75.86,253.92 77.01,253.70 78.15,258.22 79.29,257.29 80.43,252.93 81.57,252.98 82.72,252.27 83.86,253.72 85.00,252.13 86.14,253.55 87.28,253.20 88.43,250.94 89.57,250.58 90.71,252.78 91.85,252.34 92.99,251.85 94.14,252.22 95.28,252.12 96.42,253.26 97.56,251.09 98.70,252.96 99.85,253.08 100.99,249.70 102.13,248.11 103.27,247.69 104.41,249.68 105.56,251.25 106.70,249.65 107.84,248.10 108.98,249.71 110.12,250.66 111.27,252.49 112.41,252.77 113.55,248.07 114.69,251.37 115.83,250.84 116.98,250.14 118.12,249.18 119.26,250.93 120.40,248.77 121.54,248.28 122.69,248.80 123.83,249.74 124.97,249.55 126.11,251.45 127.25,248.51 128.40,249.33 129.54,250.51 130.68,249.01 131.82,247.99 132.96,247.91 134.11,247.52 135.25,246.72 136.39,248.59 137.53,248.13 138.67,247.98 139.82,250.05 140.96,247.41 142.10,248.61 143.24,248.19 144.38,248.07 145.53,249.39 146.67,247.74 147.81,247.26 148.95,248.13 150.09,251.90 151.24,247.71 152.38,248.66 153.52,249.44 154.66,249.55 155.80,250.17 156.95,249.49 158.09,248.26 159.23,250.00 160.37,248.87 161.51,249.58 162.66,249.37 163.80,249.48 164.94,248.76 166.08,247.86 167.22,248.84 168.37,248.06 169.51,247.27 170.65,250.39 171.79,248.57 172.93,249.42 174.08,249.49 175.22,248.26 176.36,249.36 177.50,250.03 178.64,248.12 179.79,248.00 180.93,248.68 182.07,246.23 183.21,249.87 184.35,251.31 185.50,250.10 186.64,250.86 187.78,249.42 188.92,250.18 190.06,250.36 191.21,249.77 192.35,250.58 193.49,251.90 194.63,250.92 195.77,249.24 196.92,249.42 198.06,248.74 199.20,247.84 200.34,248.53 201.48,249.67 202.63,250.65 203.77,249.59 204.91,248.21 206.05,248.15 207.19,248.67 208.34,250.60 209.48,249.57 210.62,249.26 211.76,248.67 212.90,251.14 214.05,251.06 215.19,250.19 216.33,250.05 217.47,250.78 218.61,249.80 219.76,250.44 220.90,249.14 222.04,250.52 223.18,250.11 224.32,252.39 225.47,250.50 226.61,251.03 227.75,249.74 228.89,250.39 230.03,249.11 231.18,250.66 232.32,251.90 233.46,250.46 234.60,249.83 235.74,251.07 236.89,251.88 238.03,249.98 239.17,249.31 240.31,249.52 241.45,250.22 242.60,250.46 243.74,248.87 244.88,249.41 246.02,251.25 247.16,251.80 248.31,250.21 249.45,249.80 250.59,251.08 251.73,251.49 252.87,249.85 254.02,250.82 255.16,249.88 256.30,251.64" stroke="#2a80ee" stroke-width="1.2"/>
<polyline points="29.04,425.00 30.18,416.17 31.33,407.05 32.47,397.07 33.61,379.06 34.75,345.71 35.89,322.13 37.04,311.46 38.18,300.91 39.32,296.10 40.46,292.31 41.60,289.57 42.75,289.80 43.89,286.57 45.03,283.31 46.17,277.84 47.31,280.89 48.46,279.48 49.60,276.68 50.74,273.99 51.88,271.06 53.02,269.05 54.17,271.02 55.31,265.98 56.45,266.81 57.59,269.49 58.73,269.75 59.88,267.96 61.02,266.60 62.16,263.56 63.30,265.89 64.44,265.47 65.59,265.54 66.73,263.00 67.87,265.42 69.01,261.70 70.15,263.11 71.30,261.93 72.44,260.10 73.58,259.55 74.72,254.55 75.86,259.74 77.01,262.39 78.15,261.09 79.29,256.69 80.43,258.64 81.57,255.02 82.72,256.26 83.86,254.70 85.00,257.95 86.14,254.16 87.28,253.03 88.43,255.98 89.57,252.76 90.71,249.86 91.85,253.29 92.99,255.26 94.14,254.95 95.28,254.24 96.42,251.97 97.56,250.13 98.70,252.97 99.85,253.09 100.99,254.65 102.13,253.52 103.27,251.76 104.41,254.87 105.56,251.50 106.70,250.44 107.84,249.69 108.98,251.93 110.12,253.65 111.27,252.09 112.41,252.70 113.55,253.70 114.69,252.41 115.83,252.89 116.98,248.43 118.12,249.01 119.26,248.85 120.40,251.42 121.54,248.63 122.69,250.32 123.83,249.03 124.97,251.14 126.11,249.41 127.25,251.96 128.40,250.51 129.54,250.27 130.68,251.59 131.82,250.06 132.96,250.46 134.11,250.28 135.25,248.80 136.39,247.79 137.53,249.37 138.67,247.85 139.82,247.85 140.96,248.12 142.10,247.13 143.24,250.66 144.38,247.99 145.53,248.61 146.67,249.65 147.81,249.60 148.95,248.21 150.09,247.74 151.24,248.22 152.38,250.50 153.52,251.32 154.66,249.75 155.80,248.76 156.95,250.10 158.09,248.58 159.23,248.60 160.37,248.76 161.51,250.21 162.66,248.24 163.80,248.17 164.94,247.74 166.08,248.76 167.22,250.80 168.37,249.39 169.51,248.58 170.65,249.55 171.79,250.86 172.93,249.25 174.08,248.86 175.22,250.86 176.36,250.70 177.50,251.47 178.64,249.71 179.79,249.54 180.93,247.83 182.07,250.38 183.21,248.48 184.35,249.79 185.50,249.54 186.64,251.12 187.78,250.11 188.92,250.51 190.06,250.16 191.21,249.80 192.35,249.42 193.49,248.99 194.63,249.83 195.77,250.93 196.92,249.15 198.06,249.80 199.20,250.67 200.34,248.78 201.48,249.56 202.63,249.28 203.77,251.76 204.91,251.15 206.05,248.30 207.19,249.32 208.34,249.56 209.48,250.87 210.62,250.55 211.76,249.98 212.90,250.34 214.05,250.47 215.19,252.21 216.33,251.58 217.47,251.12 218.61,250.00 219.76,249.84 220.90,250.37 222.04,251.23 223.18,251.41 224.32,250.47 225.47,251.94 226.61,251.09 227.75,251.03 228.89,250.98 230.03,249.04 231.18,250.50 232.32,249.79 233.46,248.92 234.60,249.86 235.74,250.59 236.89,252.02 238.03,249.41 239.17,251.67 240.31,253.08 241.45,250.24 242.60,252.25 243.74,252.40 244.88,251.96 246.02,252.36 247.16,253.46 248.31,251.32 249.45,250.62 250.59,250.22 251.73,250.95 252.87,251.48 254.02,251.74 255.16,250.06 256.30,250.11" stroke="#12a864" stroke-width="1.05"/>
<polyline points="29.04,425.00 30.18,423.86 31.33,424.26 32.47,414.49 33.61,392.17 34.75,358.44 35.89,331.90 37.04,324.25 38.18,310.45 39.32,308.53 40.46,328.35 41.60,298.31 42.75,294.11 43.89,290.90 45.03,286.31 46.17,285.04 47.31,282.34 48.46,281.30 49.60,284.19 50.74,283.92 51.88,278.79 53.02,277.14 54.17,277.01 55.31,279.08 56.45,277.46 57.59,276.90 58.73,273.20 59.88,275.02 61.02,275.98 62.16,274.52 63.30,271.74 64.44,268.37 65.59,271.45 66.73,268.61 67.87,270.74 69.01,270.79 70.15,271.25 71.30,267.98 72.44,269.35 73.58,266.74 74.72,268.35 75.86,264.57 77.01,266.21 78.15,266.52 79.29,268.42 80.43,264.26 81.57,264.81 82.72,264.99 83.86,264.80 85.00,265.30 86.14,265.12 87.28,263.38 88.43,264.55 89.57,263.42 90.71,259.12 91.85,261.77 92.99,262.29 94.14,260.34 95.28,262.56 96.42,259.17 97.56,260.34 98.70,262.06 99.85,260.64 100.99,260.92 102.13,258.71 103.27,259.80 104.41,258.15 105.56,261.42 106.70,259.80 107.84,257.90 108.98,257.45 110.12,257.81 111.27,256.78 112.41,256.38 113.55,257.20 114.69,256.96 115.83,255.87 116.98,256.51 118.12,260.12 119.26,259.40 120.40,257.91 121.54,255.75 122.69,256.00 123.83,255.18 124.97,254.44 126.11,254.76 127.25,256.58 128.40,254.57 129.54,256.80 130.68,257.03 131.82,255.91 132.96,257.82 134.11,253.23 135.25,251.35 136.39,253.96 137.53,254.62 138.67,256.78 139.82,254.01 140.96,254.88 142.10,255.61 143.24,255.92 144.38,254.43 145.53,254.20 146.67,254.00 147.81,254.48 148.95,255.82 150.09,252.36 151.24,252.34 152.38,253.91 153.52,255.04 154.66,254.82 155.80,252.78 156.95,252.53 158.09,252.69 159.23,251.64 160.37,253.36 161.51,251.44 162.66,252.43 163.80,253.62 164.94,252.40 166.08,252.34 167.22,253.41 168.37,250.83 169.51,254.07 170.65,252.58 171.79,252.08 172.93,253.17 174.08,252.50 175.22,250.96 176.36,253.25 177.50,253.63 178.64,252.86 179.79,251.75 180.93,250.83 182.07,251.18 183.21,253.04 184.35,250.99 185.50,250.99 186.64,250.62 187.78,253.39 188.92,253.96 190.06,252.97 191.21,252.51 192.35,251.94 193.49,252.94 194.63,253.09 195.77,251.52 196.92,253.86 198.06,253.31 199.20,251.91 200.34,250.85 201.48,251.10 202.63,249.75 203.77,250.80 204.91,250.56 206.05,250.38 207.19,251.12 208.34,252.65 209.48,251.86 210.62,251.60 211.76,252.23 212.90,250.76 214.05,251.70 215.19,252.87 216.33,251.58 217.47,252.34 218.61,250.91 219.76,253.83 220.90,253.47 222.04,251.64 223.18,251.03 224.32,251.07 225.47,249.61 226.61,251.10 227.75,251.66 228.89,250.40 230.03,251.31 231.18,250.75 232.32,249.76 233.46,250.99 234.60,251.17 235.74,251.70 236.89,250.78 238.03,250.36 239.17,249.85 240.31,250.10 241.45,248.81 242.60,250.38 243.74,250.71 244.88,251.18 246.02,249.70 247.16,250.58 248.31,251.12 249.45,252.22 250.59,251.27 251.73,250.07 252.87,253.26 254.02,252.42 255.16,252.04 256.30,251.86" stroke="#c46cf0" stroke-width="1.0"/>
</g>
<g stroke="#3a3a3a" stroke-width="1.25" fill="none">
<path d="M27.9 241.1 V425.0 H256.90000000000003"/>
</g>
<g stroke="#3a3a3a" stroke-width="1" fill="none">
<path d="M27.90 425.0 v-3.2"/>
<path d="M85.00 425.0 v-3.2"/>
<path d="M142.10 425.0 v-3.2"/>
<path d="M199.20 425.0 v-3.2"/>
<path d="M256.30 425.0 v-3.2"/>
<path d="M56.45 425.0 v-1.8"/>
<path d="M113.55 425.0 v-1.8"/>
<path d="M170.65 425.0 v-1.8"/>
<path d="M227.75 425.0 v-1.8"/>
<path d="M27.9 425.00 h3.2"/>
<path d="M27.9 384.13 h3.2"/>
<path d="M27.9 343.27 h3.2"/>
<path d="M27.9 302.40 h3.2"/>
<path d="M27.9 261.53 h3.2"/>
<path d="M27.9 404.57 h1.8"/>
<path d="M27.9 363.70 h1.8"/>
<path d="M27.9 322.83 h1.8"/>
<path d="M27.9 281.97 h1.8"/>
<path d="M27.9 241.10 h1.8"/>
</g>
<g font-size="7.8" fill="#111">
<text x="28.10" y="434.9" text-anchor="middle" font-size="7.8">0</text>
<text x="85.20" y="434.9" text-anchor="middle" font-size="7.8">50</text>
<text x="142.30" y="434.9" text-anchor="middle" font-size="7.8">100</text>
<text x="199.40" y="434.9" text-anchor="middle" font-size="7.8">150</text>
<text x="256.50" y="434.9" text-anchor="middle" font-size="7.8">200</text>
<text x="23.5" y="427.60" text-anchor="end">0</text>
<text x="23.5" y="386.73" text-anchor="end">20</text>
<text x="23.5" y="345.87" text-anchor="end">40</text>
<text x="23.5" y="305.00" text-anchor="end">60</text>
<text x="23.5" y="264.13" text-anchor="end">80</text>
</g>
<text x="142.2" y="444.2" font-size="9.4" text-anchor="middle" fill="#1a1a1a">Epoch</text>
<text transform="translate(14.1 332.2) rotate(-90)" font-size="9.4" text-anchor="middle" fill="#1a1a1a">mAP/%</text>
<rect x="167.3" y="306.3" width="70.50" height="60.50" fill="#fff" stroke="#bdbdbd" stroke-width="0.8"/>
<path d="M168.4 312.8 H188.2" stroke="#808080" stroke-width="1.7"/>
<text x="192.9" y="316.00" font-size="9.6" fill="#111">YOLOv8x</text>
<path d="M168.4 324.5 H188.2" stroke="#f03a3a" stroke-width="1.0"/>
<text x="192.9" y="327.70" font-size="9.6" fill="#111">YOLOv8l</text>
<path d="M168.4 336.5 H188.2" stroke="#2a80ee" stroke-width="1.3"/>
<text x="192.9" y="339.70" font-size="9.6" fill="#111">YOLOv8m</text>
<path d="M168.4 348.3 H188.2" stroke="#12a864" stroke-width="1.1"/>
<text x="192.9" y="351.50" font-size="9.6" fill="#111">YOLOv8s</text>
<path d="M168.4 359.9 H188.2" stroke="#c46cf0" stroke-width="1.5"/>
<text x="192.9" y="363.10" font-size="9.6" fill="#111">YOLOv8n</text>
<text x="135.6" y="465.3" font-size="14" text-anchor="middle" fill="#111">(<tspan font-weight="bold">c</tspan>)</text>
</svg>
</body></html>
